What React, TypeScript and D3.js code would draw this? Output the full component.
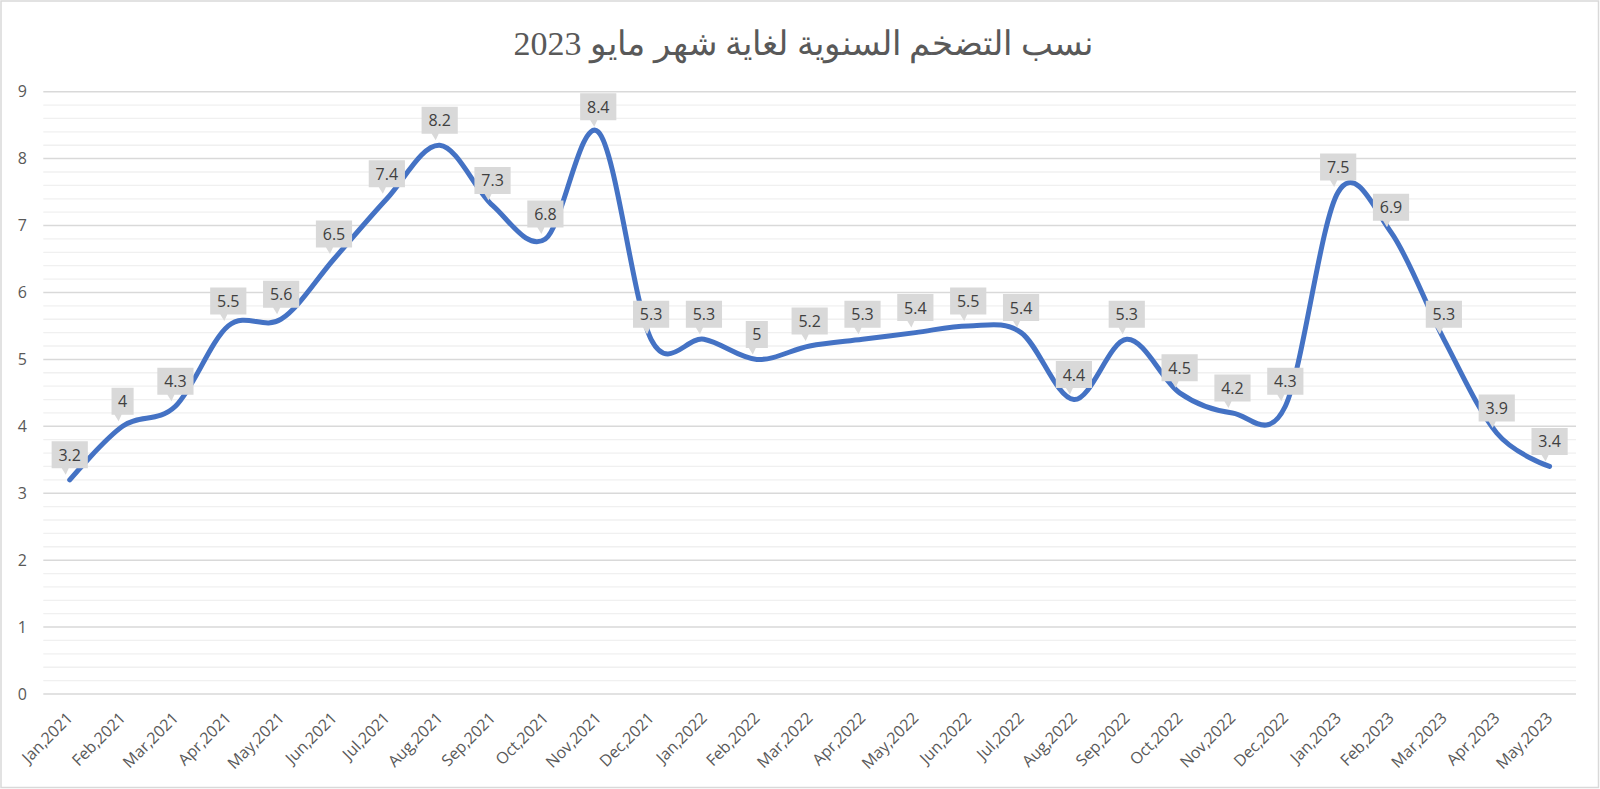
import React from "react";
import * as d3 from "d3";

const months = [
  "Jan,2021","Feb,2021","Mar,2021","Apr,2021","May,2021","Jun,2021","Jul,2021","Aug,2021","Sep,2021","Oct,2021","Nov,2021","Dec,2021",
  "Jan,2022","Feb,2022","Mar,2022","Apr,2022","May,2022","Jun,2022","Jul,2022","Aug,2022","Sep,2022","Oct,2022","Nov,2022","Dec,2022",
  "Jan,2023","Feb,2023","Mar,2023","Apr,2023","May,2023",
];
const inflation = [
  3.2, 4, 4.3, 5.5, 5.6, 6.5, 7.4, 8.2, 7.3, 6.8, 8.4, 5.3,
  5.3, 5, 5.2, 5.3, 5.4, 5.5, 5.4, 4.4, 5.3, 4.5, 4.2, 4.3,
  7.5, 6.9, 5.3, 3.9, 3.4,
];
const yTicks = [0, 1, 2, 3, 4, 5, 6, 7, 8, 9];
const title = "نسب التضخم السنوية لغاية شهر مايو 2023";

const W = 1600;
const H = 789;
const plotLeft = 43.3;
const plotRight = 1576;
const plotTop = 91.7;
const plotBottom = 694;

export default function App() {
  const x = d3.scalePoint<string>().domain(months).range([plotLeft, plotRight]).padding(0.5);
  const y = d3.scaleLinear().domain([0, 9]).range([plotBottom, plotTop]);
  const minor = d3.range(0, 9, 0.2).filter((v) => Math.abs(v - Math.round(v)) > 1e-6);

  const line = d3
    .line<number>()
    .x((_, i) => x(months[i])!)
    .y((d) => y(d))
    .curve(d3.curveCardinal.tension(0));

  const labelWidth = (s: string) => {
    let w = 13;
    for (const c of s) w += c === "." ? 5 : 9.1;
    return w;
  };

  return (
    <svg width={W} height={H} style={{ position: "absolute", left: 0, top: 0, background: "#fff" }}>
      <rect x={1} y={1} width={W - 2.5} height={H - 2.5} fill="#fff" stroke="#d9d9d9" strokeWidth={1.5} />
      <text
        x={803}
        y={55}
        textAnchor="middle"
        direction="rtl"
        fontFamily="'Liberation Serif', 'Times New Roman', 'DejaVu Serif', serif"
        fontSize={34}
        fill="#595959"
      >
        {title}
      </text>
      {minor.map((v) => (
        <line key={"m" + v} x1={plotLeft} x2={plotRight} y1={y(v)} y2={y(v)} stroke="#f0f0f0" strokeWidth={1.3} />
      ))}
      {yTicks.map((v) => (
        <line key={"g" + v} x1={plotLeft} x2={plotRight} y1={y(v)} y2={y(v)} stroke="#d9d9d9" strokeWidth={1.5} />
      ))}
      {yTicks.map((v) => (
        <text
          key={"t" + v}
          x={27}
          y={y(v)}
          dy="0.35em"
          textAnchor="end"
          fontFamily="'Open Sans', sans-serif"
          fontSize={16}
          fill="#595959"
        >
          {v}
        </text>
      ))}
      {months.map((m) => (
        <text
          key={m}
          transform={`translate(${x(m)! + 4},${plotBottom + 25}) rotate(-45)`}
          textAnchor="end"
          fontFamily="'Open Sans', sans-serif"
          fontSize={16}
          fill="#595959"
        >
          {m}
        </text>
      ))}
      <path d={line(inflation)!} fill="none" stroke="#4472C4" strokeWidth={5} strokeLinecap="round" strokeLinejoin="round" />
      {inflation.map((v, i) => {
        const cx = x(months[i])!;
        const py = y(v);
        const s = String(v);
        const w = labelWidth(s);
        const h = 27;
        const b = py - 11.5;
        const t = b - h;
        const l = cx - w / 2;
        const r = cx + w / 2;
        const d = `M${l},${t}H${r}V${b}H${cx - 1}L${cx - 4},${b + 6.5}L${cx - 8},${b}H${l}Z`;
        return (
          <g key={"l" + i}>
            <path d={d} fill="#d9d9d9" />
            <text
              x={cx}
              y={b - 7.5}
              textAnchor="middle"
              fontFamily="'Open Sans', sans-serif"
              fontSize={16}
              fill="#404040"
            >
              {s}
            </text>
          </g>
        );
      })}
    </svg>
  );
}
